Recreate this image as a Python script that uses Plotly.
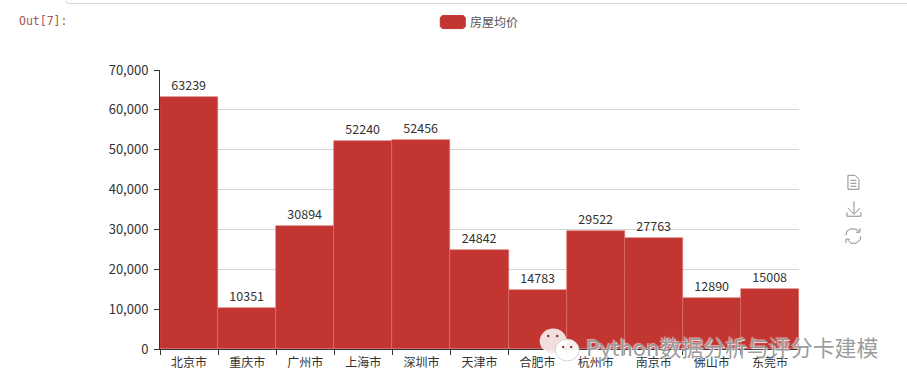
import plotly.graph_objects as go

cities = ["北京市", "重庆市", "广州市", "上海市", "深圳市", "天津市", "合肥市", "杭州市", "南京市", "佛山市", "东莞市"]
prices = [63239, 10351, 30894, 52240, 52456, 24842, 14783, 29522, 27763, 12890, 15008]
y_ticks = [0, 10000, 20000, 30000, 40000, 50000, 60000, 70000]
series_name = "房屋均价"

W, H = 907, 388
L, R, T, B = 159.5, 799, 69.5, 349
FONT = "Noto Sans CJK SC, Noto Sans, sans-serif"
RED = "#c23531"

def px(x):
    return (x - L) / (R - L)

def py(y):
    return (B - y) / (B - T)

def path(points, close=False):
    d = "M" + " L".join(f"{px(x):.5f},{py(y):.5f}" for x, y in points)
    return d + (" Z" if close else "")

def line_shape(points, color="#8a8a8a", width=1, fill=None, close=False):
    return dict(type="path", xref="paper", yref="paper", path=path(points, close),
                line=dict(color=color, width=width),
                fillcolor=fill or "rgba(0,0,0,0)", layer="above")

def circle(cx, cy, rx, ry, fill, color="rgba(0,0,0,0)", width=0):
    return dict(type="circle", xref="paper", yref="paper",
                x0=px(cx - rx), x1=px(cx + rx), y0=py(cy + ry), y1=py(cy - ry),
                fillcolor=fill, line=dict(color=color, width=width), layer="above")

fig = go.Figure(go.Bar(
    x=cities, y=prices, name=series_name,
    marker=dict(color=RED, line=dict(color="#d8706b", width=0.6)),
    text=prices, texttemplate="%{y:d}", textposition="outside", cliponaxis=False,
    textfont=dict(size=12.5, color="#333", family=FONT),
))

# rounded legend swatch outline
swatch = [(442, 15), (463, 15), (465, 17), (465, 26), (463, 28), (442, 28), (440, 26), (440, 17)]

shapes = [
    # notebook input-cell border
    line_shape([(65, 0), (66, 2), (69, 3), (907, 3)], color="#d4d4d4"),
    # legend swatch
    line_shape(swatch, color=RED, width=1, fill=RED, close=True),
    # toolbox: data view
    line_shape([(848, 175), (855, 175), (859, 179), (859, 189), (848, 189)], close=True),
    line_shape([(850.5, 180), (856.5, 180)]),
    line_shape([(850.5, 183), (856.5, 183)]),
    line_shape([(850.5, 186), (856.5, 186)]),
    # toolbox: save
    line_shape([(854, 201), (854, 213)]),
    line_shape([(848, 208), (854, 214), (860, 208)]),
    line_shape([(847, 212), (847, 216), (861, 216), (861, 212)]),
    # toolbox: restore
    line_shape([(846, 235), (847, 231), (851, 228.5), (856, 229), (859, 231)]),
    line_shape([(861, 236), (860, 240), (856, 243), (851, 243), (848, 240)]),
    line_shape([(860, 228), (860, 232), (856, 232)]),
    line_shape([(846, 243), (846, 239), (850, 239)]),
    # watermark logo
    circle(553, 341, 13.5, 12.5, "rgba(245,232,232,0.95)"),
    circle(567, 350, 12, 11, "rgba(255,255,255,0.92)", color="rgba(190,190,190,0.8)", width=0.8),
    circle(548, 336, 1.3, 1.3, "#8c3a38"),
    circle(557, 336, 1.3, 1.3, "#8c3a38"),
    circle(563, 347, 1.2, 1.2, "#8c3a38"),
    circle(571, 347, 1.2, 1.2, "#8c3a38"),
]

def note(x, y, text, size, color, family=FONT, **kw):
    return dict(xref="paper", yref="paper", x=px(x), y=py(y), text=text, showarrow=False,
                xanchor="left", yanchor="middle",
                font=dict(size=size, color=color, family=family, **kw))

annotations = [
    note(16, 20, "Out[7]:", 11.5, "#a5574f", family="DejaVu Sans Mono, monospace"),
    note(468, 21, series_name, 12, "#555"),
    note(584, 346, "Python数据分析与评分卡建模", 21.9, "rgba(150,150,150,0.95)",
         shadow="1px 1px 1px rgba(255,255,255,0.95), -1px -1px 1px rgba(255,255,255,0.6)"),
]

fig.update_layout(
    width=W, height=H, autosize=False,
    margin=dict(l=L, r=W - R, t=T, b=H - B, pad=0),
    paper_bgcolor="white", plot_bgcolor="white",
    showlegend=False, bargap=0,
    font=dict(family=FONT, size=12, color="#333"),
    shapes=shapes, annotations=annotations,
    xaxis=dict(type="category", tickson="boundaries", ticks="outside", ticklen=5, tickcolor="#333",
               showline=True, linecolor="#333", linewidth=1, showgrid=False,
               tickangle=0, ticklabelstandoff=3, tickfont=dict(size=12, color="#333")),
    yaxis=dict(range=[0, 70000], tickvals=y_ticks, tickformat=",d", ticks="outside", ticklen=5,
               tickcolor="#333", showline=True, linecolor="#333", linewidth=1,
               showgrid=True, gridcolor="#d4d4d4", gridwidth=1, zeroline=False,
               ticklabelstandoff=3, tickfont=dict(size=13, color="#333")),
)

fig.write_html("out.html", config={"displayModeBar": False},
               post_script="document.body.style.margin='0';document.body.style.overflow='hidden';")
